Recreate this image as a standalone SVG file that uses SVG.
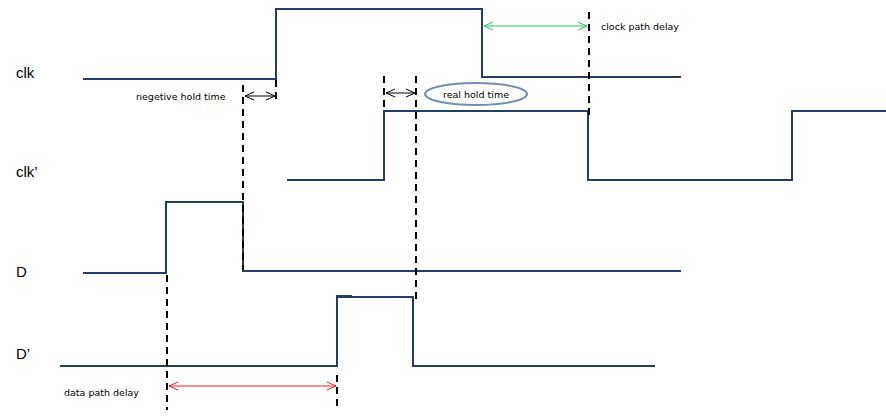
<svg xmlns="http://www.w3.org/2000/svg" width="886" height="416" viewBox="0 0 886 416">
<defs>
<marker id="ak" markerWidth="10" markerHeight="10" refX="9" refY="5" orient="auto-start-reverse" markerUnits="userSpaceOnUse"><path d="M0,1 L9,5 L0,9" fill="none" stroke="#000" stroke-width="1"/></marker>
<marker id="ag" markerWidth="10" markerHeight="10" refX="9" refY="5" orient="auto-start-reverse" markerUnits="userSpaceOnUse"><path d="M0,1 L9,5 L0,9" fill="none" stroke="#22c45a" stroke-width="1"/></marker>
<marker id="ar" markerWidth="10" markerHeight="10" refX="9" refY="5" orient="auto-start-reverse" markerUnits="userSpaceOnUse"><path d="M0,1 L9,5 L0,9" fill="none" stroke="#f02020" stroke-width="1"/></marker>
</defs>
<style>
.w{fill:none;stroke:#213f66;stroke-width:2}
.d{fill:none;stroke:#000;stroke-width:2;stroke-dasharray:7,5}
.lab{font-family:"Liberation Sans",Arial,sans-serif;font-size:15px;fill:#000}
.s{font-family:"DejaVu Sans",sans-serif;font-size:9.5px;fill:#000}
</style>
<rect width="886" height="416" fill="#fff"/>
<g id="clk"><path class="w" d="M83,79 H276 V9 H482 V77 H681"/><text class="lab" x="16" y="78">clk</text></g>
<g id="clkp"><path class="w" d="M287,180 H384 V111 H588 V180 H792 V111 H886"/><text class="lab" x="16" y="177">clk’</text></g>
<g id="D"><path class="w" d="M83,273 H166 V202 H243 V271 H681"/><text class="lab" x="16" y="277">D</text></g>
<g id="Dp"><path class="w" d="M60,366 H337 V296 H352 M337,297 H413 V366 H655"/><text class="lab" x="16" y="359">D’</text></g>
<g id="connectors">
<path class="d" d="M243,85 V270"/>
<path class="d" d="M384,76 V112"/>
<path class="d" d="M416,76 V300"/>
<path class="d" d="M589,12 V120"/>
<path class="d" d="M167,275 V410"/>
<path class="d" d="M337,375 V410"/>
<path class="d" d="M276,80 V100"/>
<line x1="245" y1="96" x2="275" y2="96" stroke="#000" marker-start="url(#ak)" marker-end="url(#ak)"/>
<line x1="386" y1="93" x2="415" y2="93" stroke="#000" marker-start="url(#ak)" marker-end="url(#ak)"/>
<line x1="484" y1="26" x2="587" y2="26" stroke="#22c45a" marker-start="url(#ag)" marker-end="url(#ag)"/>
<line x1="169" y1="386" x2="336" y2="386" stroke="#f02020" marker-start="url(#ar)" marker-end="url(#ar)"/>
</g>
<g id="labels">
<text class="s" x="136" y="100">negetive  hold  time</text>
<ellipse cx="476" cy="94" rx="51" ry="11" fill="none" stroke="#6f8fb5" stroke-width="2"/>
<text class="s" x="476" y="98" text-anchor="middle">real hold time</text>
<text class="s" x="601" y="30">clock  path delay</text>
<text class="s" x="64" y="396">data path delay</text>
</g>
</svg>
